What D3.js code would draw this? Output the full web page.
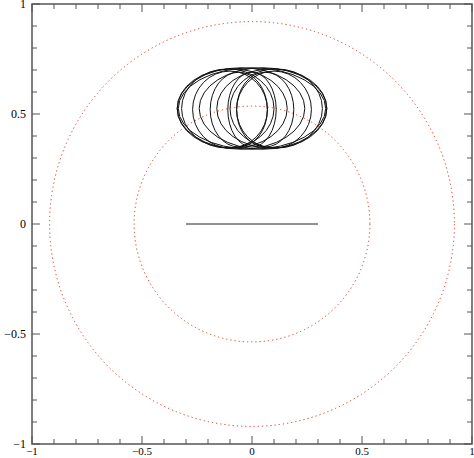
<!DOCTYPE html>
<html><head><meta charset="utf-8">
<script src="https://cdn.jsdelivr.net/npm/d3@7"></script>
<style>body{margin:0;background:#fff}text{font-family:"Liberation Serif",serif;font-size:12px}</style>
</head><body>
<svg id="c" width="474" height="458"></svg>
<script>
// ellipse family: centre x, half width, centre y, half height
const loopCx = [0, -0.06, 0.06, -0.1, 0.1, -0.11, 0.11, -0.09, 0.09, -0.05, 0.05, 0];
const loopRx = [0.11, 0.13, 0.13, 0.17, 0.17, 0.21, 0.21, 0.25, 0.25, 0.29, 0.29, 0.335];
const loopCy = [0.52, 0.52, 0.52, 0.52, 0.52, 0.525, 0.525, 0.525, 0.525, 0.525, 0.525, 0.525];
const loopRy = [0.17, 0.17, 0.17, 0.175, 0.175, 0.18, 0.18, 0.18, 0.18, 0.185, 0.185, 0.185];
const circleR = [0.536, 0.92];
const segX = [-0.3, 0.3];
const majorTicks = [-1, -0.5, 0, 0.5, 1];
const tickLabels = ["\u22121", "\u22120.5", "0", "0.5", "1"];

const svg = d3.select("#c");
const x = d3.scaleLinear().domain([-1, 1]).range([32, 472]);
const y = d3.scaleLinear().domain([-1, 1]).range([444, 4]);
const minor = d3.range(-10, 11).map(d => d / 10);

svg.append("rect").attr("x", 32).attr("y", 4).attr("width", 440).attr("height", 440)
    .attr("fill", "none").attr("stroke", "#555").attr("stroke-width", 1.5);

const g = svg.append("g").attr("stroke", "#555");
minor.forEach(function(v) {
    let len = majorTicks.includes(v) ? 8 : 5;
    g.append("line").attr("x1", x(v)).attr("x2", x(v)).attr("y1", 444).attr("y2", 444 - len);
    g.append("line").attr("x1", x(v)).attr("x2", x(v)).attr("y1", 4).attr("y2", 4 + len);
    g.append("line").attr("y1", y(v)).attr("y2", y(v)).attr("x1", 32).attr("x2", 32 + len);
    g.append("line").attr("y1", y(v)).attr("y2", y(v)).attr("x1", 472).attr("x2", 472 - len);
});

majorTicks.forEach(function(v, i) {
    svg.append("text").attr("x", x(v)).attr("y", 455).attr("text-anchor", "middle")
        .style("font-size", "11px").text(tickLabels[i]);
    svg.append("text").attr("x", 26).attr("y", y(v) + 4).attr("text-anchor", "end").text(tickLabels[i]);
});

circleR.forEach(function(r) {
    svg.append("circle").attr("cx", x(0)).attr("cy", y(0)).attr("r", x(r) - x(0))
        .attr("fill", "none").attr("stroke", "#e03020").attr("stroke-width", 1)
        .attr("stroke-dasharray", "1.2,3");
});

svg.append("line").attr("x1", x(segX[0])).attr("x2", x(segX[1])).attr("y1", y(0)).attr("y2", y(0))
    .attr("stroke", "#222").attr("stroke-width", 1);

svg.selectAll(".loop").data(loopCx).enter().append("ellipse")
    .attr("cx", d => x(d))
    .attr("cy", (d, i) => y(loopCy[i]))
    .attr("rx", (d, i) => x(loopRx[i]) - x(0))
    .attr("ry", (d, i) => x(loopRy[i]) - x(0))
    .attr("fill", "none").attr("stroke", "#111").attr("stroke-width", 1);
</script>
</body></html>
